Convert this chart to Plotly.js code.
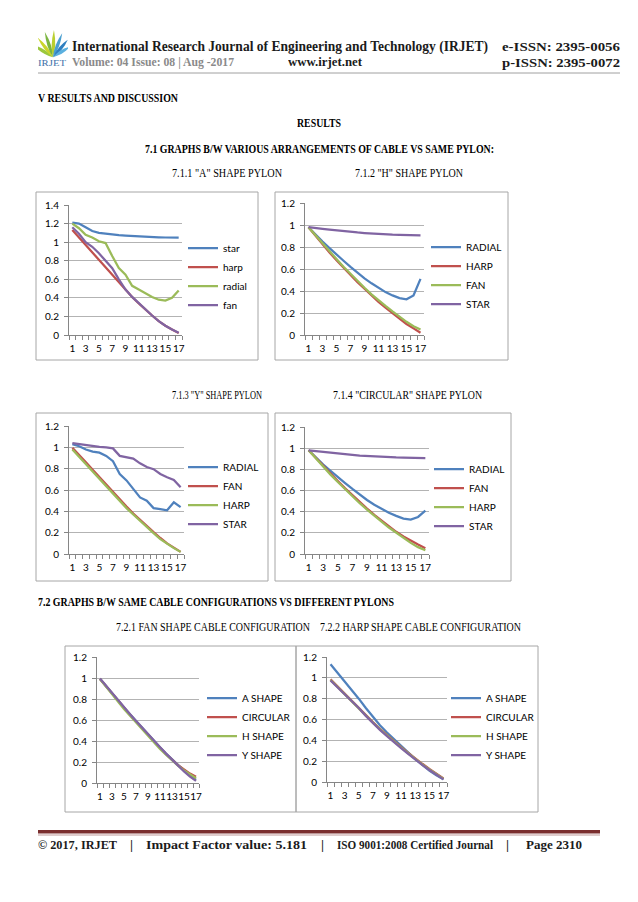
<!DOCTYPE html>
<html><head><meta charset="utf-8">
<script src="https://cdn.plot.ly/plotly-3.0.1.min.js"></script>
<style>
html,body{margin:0;padding:0;background:#fff;}
#page{position:relative;width:638px;height:902px;overflow:hidden;background:#fff;}
#chart{position:absolute;left:0;top:0;width:638px;height:902px;}
.t{position:absolute;white-space:nowrap;transform-origin:0 50%;font-family:'Liberation Serif','DejaVu Serif',serif;line-height:1;}
#logo{position:absolute;left:38px;top:29px;}
</style></head>
<body><div id="page"><div id="chart"></div>
<svg id="logo" width="30" height="30" viewBox="0 0 34 32">
  <g>
    <path d="M17,31 Q13,18 17,5 Q21,18 17,31Z" fill="#9cc83c" transform="rotate(-58 17 31)"/>
    <path d="M17,31 Q13,18 17,3 Q21,18 17,31Z" fill="#c9d52a" transform="rotate(-38 17 31)"/>
    <path d="M17,31 Q13,18 17,1 Q21,18 17,31Z" fill="#7bb540" transform="rotate(-18 17 31)"/>
    <path d="M17,31 Q13,18 17,0 Q21,18 17,31Z" fill="#b9cf2e" transform="rotate(2 17 31)"/>
    <path d="M17,31 Q13,18 17,2 Q21,18 17,31Z" fill="#4a9fd0" transform="rotate(21 17 31)"/>
    <path d="M17,31 Q13,18 17,5 Q21,18 17,31Z" fill="#2f7fc0" transform="rotate(40 17 31)"/>
    <path d="M17,31 Q13,18 17,9 Q21,18 17,31Z" fill="#5bb0df" transform="rotate(58 17 31)"/>
  </g>
</svg>
</div>
<script>
// ---------- data ----------
const categories = [1,2,3,4,5,6,7,8,9,10,11,12,13,14,15,16,17];
const tickValues = [1,3,5,7,9,11,13,15,17];
const tickLabels = ['1','3','5','7','9','11','13','15','17'];

// 7.1.1 "A" shape pylon
const aStar   = [1.21,1.20,1.16,1.12,1.10,1.09,1.08,1.075,1.07,1.065,1.06,1.058,1.055,1.052,1.05,1.05,1.048];
const aHarp   = [1.13,1.05,0.97,0.89,0.81,0.73,0.65,0.56,0.48,0.41,0.34,0.27,0.21,0.15,0.10,0.06,0.02];
const aRadial = [1.20,1.15,1.08,1.05,1.01,0.99,0.85,0.72,0.65,0.53,0.49,0.45,0.41,0.38,0.37,0.40,0.48];
const aFan    = [1.16,1.09,1.00,0.95,0.88,0.80,0.72,0.60,0.49,0.41,0.34,0.27,0.21,0.15,0.10,0.06,0.025];

// 7.1.2 "H" shape pylon
const hRadial = [0.98,0.91,0.85,0.79,0.73,0.675,0.62,0.565,0.515,0.47,0.43,0.39,0.36,0.335,0.325,0.36,0.51];
const hHarp   = [0.98,0.90,0.83,0.75,0.68,0.61,0.54,0.48,0.42,0.36,0.30,0.25,0.20,0.15,0.10,0.06,0.02];
const hFan    = [0.98,0.905,0.835,0.76,0.69,0.62,0.555,0.49,0.43,0.37,0.315,0.265,0.215,0.165,0.12,0.08,0.05];
const hStar   = [0.98,0.975,0.965,0.958,0.95,0.944,0.938,0.932,0.927,0.922,0.918,0.915,0.912,0.91,0.908,0.906,0.905];

// 7.1.3 "Y" shape pylon
const yRadial = [1.03,1.01,0.98,0.96,0.95,0.92,0.87,0.75,0.69,0.61,0.53,0.50,0.43,0.42,0.41,0.485,0.44];
const yFan    = [0.995,0.93,0.86,0.79,0.72,0.645,0.575,0.51,0.445,0.38,0.32,0.26,0.205,0.15,0.10,0.06,0.02];
const yHarp   = [0.98,0.91,0.84,0.77,0.70,0.63,0.56,0.495,0.43,0.37,0.31,0.25,0.195,0.14,0.095,0.055,0.02];
const yStar   = [1.04,1.03,1.02,1.015,1.005,1.0,0.99,0.92,0.905,0.895,0.85,0.815,0.795,0.75,0.72,0.695,0.625];

// 7.1.4 "Circular" shape pylon
const cRadial = [0.98,0.91,0.845,0.785,0.725,0.67,0.615,0.56,0.51,0.465,0.425,0.39,0.36,0.335,0.325,0.35,0.41];
const cFan    = [0.98,0.905,0.83,0.76,0.69,0.62,0.555,0.49,0.43,0.37,0.315,0.26,0.21,0.165,0.125,0.09,0.055];
const cHarp   = [0.98,0.90,0.825,0.75,0.68,0.61,0.545,0.48,0.42,0.36,0.305,0.25,0.20,0.15,0.105,0.065,0.035];
const cStar   = [0.98,0.972,0.963,0.955,0.948,0.942,0.936,0.93,0.925,0.92,0.917,0.914,0.912,0.91,0.908,0.906,0.905];

// 7.2.1 Fan shape cable configuration
const fanA        = [0.99,0.92,0.855,0.79,0.72,0.655,0.59,0.525,0.46,0.40,0.34,0.28,0.225,0.17,0.12,0.075,0.03];
const fanCircular = [0.99,0.92,0.85,0.78,0.715,0.65,0.585,0.52,0.455,0.395,0.335,0.275,0.22,0.17,0.13,0.09,0.06];
const fanH        = [0.99,0.915,0.845,0.775,0.705,0.64,0.575,0.51,0.445,0.385,0.325,0.27,0.215,0.165,0.12,0.08,0.045];
const fanY        = [0.995,0.925,0.855,0.79,0.72,0.655,0.59,0.525,0.46,0.40,0.34,0.28,0.22,0.16,0.11,0.06,0.02];

// 7.2.2 Harp shape cable configuration
const harpA        = [1.13,1.05,0.97,0.885,0.80,0.71,0.625,0.545,0.475,0.41,0.35,0.285,0.22,0.165,0.11,0.065,0.025];
const harpCircular = [0.985,0.915,0.85,0.78,0.715,0.645,0.575,0.51,0.45,0.39,0.335,0.28,0.225,0.175,0.125,0.08,0.035];
const harpH        = [0.98,0.91,0.845,0.775,0.71,0.64,0.57,0.505,0.445,0.385,0.33,0.275,0.22,0.17,0.12,0.075,0.03];
const harpY        = [0.975,0.91,0.845,0.775,0.71,0.635,0.565,0.50,0.44,0.38,0.325,0.27,0.215,0.165,0.115,0.07,0.025];

// ---------- styling / layout ----------
const BLUE='#4F81BD', RED='#C0504D', GREEN='#9BBB59', PURPLE='#8064A2';
const W=638, H=902;
const fx = x => x/W, fy = y => 1 - y/H;

const charts = [
  {plot:[69,182,205,335], ymax:1.4, box:[36,192,258,360], leg:[223,248],
   series:[['star',aStar,BLUE],['harp',aHarp,RED],['radial',aRadial,GREEN],['fan',aFan,PURPLE]]},
  {plot:[305,424,203,335], ymax:1.2, box:[275,192,508,360], leg:[466,247],
   series:[['RADIAL',hRadial,BLUE],['HARP',hHarp,RED],['FAN',hFan,GREEN],['STAR',hStar,PURPLE]]},
  {plot:[69,184,426,554], ymax:1.2, box:[36,413,268,581], leg:[223,467],
   series:[['RADIAL',yRadial,BLUE],['FAN',yFan,RED],['HARP',yHarp,GREEN],['STAR',yStar,PURPLE]]},
  {plot:[305,429,427,554], ymax:1.2, box:[275,413,511,581], leg:[469,469],
   series:[['RADIAL',cRadial,BLUE],['FAN',cFan,RED],['HARP',cHarp,GREEN],['STAR',cStar,PURPLE]]},
  {plot:[97,199,657,783], ymax:1.2, box:[65,646,296,812], leg:[242,698],
   series:[['A SHAPE',fanA,BLUE],['CIRCULAR',fanCircular,RED],['H SHAPE',fanH,GREEN],['Y SHAPE',fanY,PURPLE]]},
  {plot:[327,447,657,782], ymax:1.2, box:[296,646,538,812], leg:[486,698],
   series:[['A SHAPE',harpA,BLUE],['CIRCULAR',harpCircular,RED],['H SHAPE',harpH,GREEN],['Y SHAPE',harpY,PURPLE]]}
];

const AXC='#868686', GRID='#b3b3b3';
const traces=[], shapes=[];
const layout = {
  width:W, height:H, margin:{l:0,r:0,t:0,b:0},
  paper_bgcolor:'rgba(0,0,0,0)', plot_bgcolor:'rgba(0,0,0,0)',
  font:{family:'Lato, Liberation Sans, sans-serif', size:10, color:'#000'},
  showlegend:true
};

charts.forEach((c,i)=>{
  const n = i+1, sx = n===1?'':String(n);
  const [x0,x1,yt,yb] = c.plot;
  layout['xaxis'+sx] = {
    domain:[fx(x0),fx(x1)], range:[0.5,17.5], anchor:'y'+sx,
    tickmode:'array', tickvals:tickValues, ticktext:tickLabels, ticks:'', tickangle:0,
    showline:true, linecolor:AXC, linewidth:1, showgrid:false, zeroline:false,
    ticklabelstandoff:4, fixedrange:true,
    minor:{tickmode:'linear', tick0:0.5, dtick:1, ticks:'outside', ticklen:4, tickcolor:AXC, tickwidth:1, showgrid:false}
  };
  layout['yaxis'+sx] = {
    domain:[fy(yb),fy(yt)], range:[0,c.ymax], anchor:'x'+sx,
    tickmode:'linear', tick0:0, dtick:0.2, ticks:'outside', ticklen:4, tickcolor:AXC,
    showline:true, linecolor:AXC, linewidth:1, showgrid:true, gridcolor:GRID, gridwidth:1,
    zeroline:false, ticklabelstandoff:3, fixedrange:true
  };
  const lname = n===1?'legend':'legend'+n;
  layout[lname] = {
    x:fx(c.leg[0]-40), y:fy(c.leg[1]-14.5), xanchor:'left', yanchor:'top',
    bgcolor:'rgba(0,0,0,0)', borderwidth:0, traceorder:'normal',
    font:{family:'Lato, Liberation Sans, sans-serif', size:10, color:'#000'}
  };
  c.series.forEach(s=>{
    traces.push({x:categories, y:s[1], name:s[0], type:'scatter', mode:'lines',
      line:{color:s[2], width:2.25}, xaxis:'x'+sx, yaxis:'y'+sx, legend:lname, hoverinfo:'skip'});
  });
  const [bx0,by0,bx1,by1] = c.box;
  shapes.push({type:'rect', xref:'paper', yref:'paper', x0:fx(bx0), x1:fx(bx1), y0:fy(by1), y1:fy(by0),
    line:{color:'#a6a6a6', width:1}, fillcolor:'rgba(0,0,0,0)', layer:'below'});
});

// header rule and footer rule
shapes.push({type:'line', xref:'paper', yref:'paper', x0:fx(38), x1:fx(620), y0:fy(73), y1:fy(73), line:{color:'#a0a0a0', width:1}});
shapes.push({type:'rect', xref:'paper', yref:'paper', x0:fx(38), x1:fx(600), y0:fy(833.5), y1:fy(830), line:{width:0}, fillcolor:'#7a2e2e'});
shapes.push({type:'line', xref:'paper', yref:'paper', x0:fx(38), x1:fx(600), y0:fy(835), y1:fy(835), line:{color:'#b08080', width:0.8}});
layout.shapes = shapes;

Plotly.newPlot('chart', traces, layout, {displayModeBar:false, staticPlot:true});

// ---------- page text ----------
const texts = [
  ['International Research Journal of Engineering and Technology (IRJET)',72,488,46,15.5,700,'#1b1b1b'],
  ['e-ISSN: 2395-0056',502,620,46,13,700,'#1b1b1b'],
  ['Volume: 04 Issue: 08 | Aug -2017',72,234,62,12.5,700,'#8a8a8a'],
  ['www.irjet.net',288,362,62,12.5,700,'#1b1b1b'],
  ['p-ISSN: 2395-0072',502,620,62,13,700,'#1b1b1b'],
  ['IRJET',38,66,63,9,400,'#3b6fa8'],
  ['V RESULTS AND DISCUSSION',38,178,98,12.5,700,'#000'],
  ['RESULTS',297,341,123,12.5,700,'#000'],
  ['7.1 GRAPHS B/W VARIOUS ARRANGEMENTS OF CABLE VS SAME PYLON:',145,494,149,12.5,700,'#000'],
  ['7.1.1 "A" SHAPE PYLON',172,282,173,12.5,400,'#000'],
  ['7.1.2 "H" SHAPE PYLON',355,463,173,12.5,400,'#000'],
  ['7.1.3 "Y" SHAPE PYLON',172,262,395,12.5,400,'#000'],
  ['7.1.4 "CIRCULAR" SHAPE PYLON',333,482,395,12.5,400,'#000'],
  ['7.2 GRAPHS B/W SAME CABLE CONFIGURATIONS VS DIFFERENT PYLONS',38,394,602,12.5,700,'#000'],
  ['7.2.1 FAN SHAPE CABLE CONFIGURATION',116,310,627,12.5,400,'#000'],
  ['7.2.2 HARP SHAPE CABLE CONFIGURATION',320,521,627,12.5,400,'#000'],
  ['© 2017, IRJET',38,117,844,13,700,'#1b1b1b'],
  ['|',130,133,844,13,700,'#1b1b1b'],
  ['Impact Factor value: 5.181',146,307,844,13,700,'#1b1b1b'],
  ['|',321,324,844,13,700,'#1b1b1b'],
  ['ISO 9001:2008 Certified Journal',337,493,844,13,700,'#1b1b1b'],
  ['|',506,509,844,13,700,'#1b1b1b'],
  ['Page  2310',526,582,844,13,700,'#1b1b1b']
];
const page = document.getElementById('page');
const spans = texts.map(t=>{
  const s = document.createElement('div');
  s.className='t'; s.textContent=t[0];
  s.style.left=t[1]+'px'; s.style.top=(t[3]-t[4]*0.5)+'px';
  s.style.fontSize=t[4]+'px'; s.style.fontWeight=t[5]; s.style.color=t[6];
  s.style.height=t[4]+'px';
  page.appendChild(s);
  return [s,t[2]-t[1]];
});
function fit(){
  spans.forEach(([s,w])=>{
    s.style.transform='none';
    const nw = s.getBoundingClientRect().width;
    if(nw>0) s.style.transform='scaleX('+(w/nw)+')';
  });
}
fit();
if(document.fonts && document.fonts.ready) document.fonts.ready.then(fit);
</script>
</body></html>
